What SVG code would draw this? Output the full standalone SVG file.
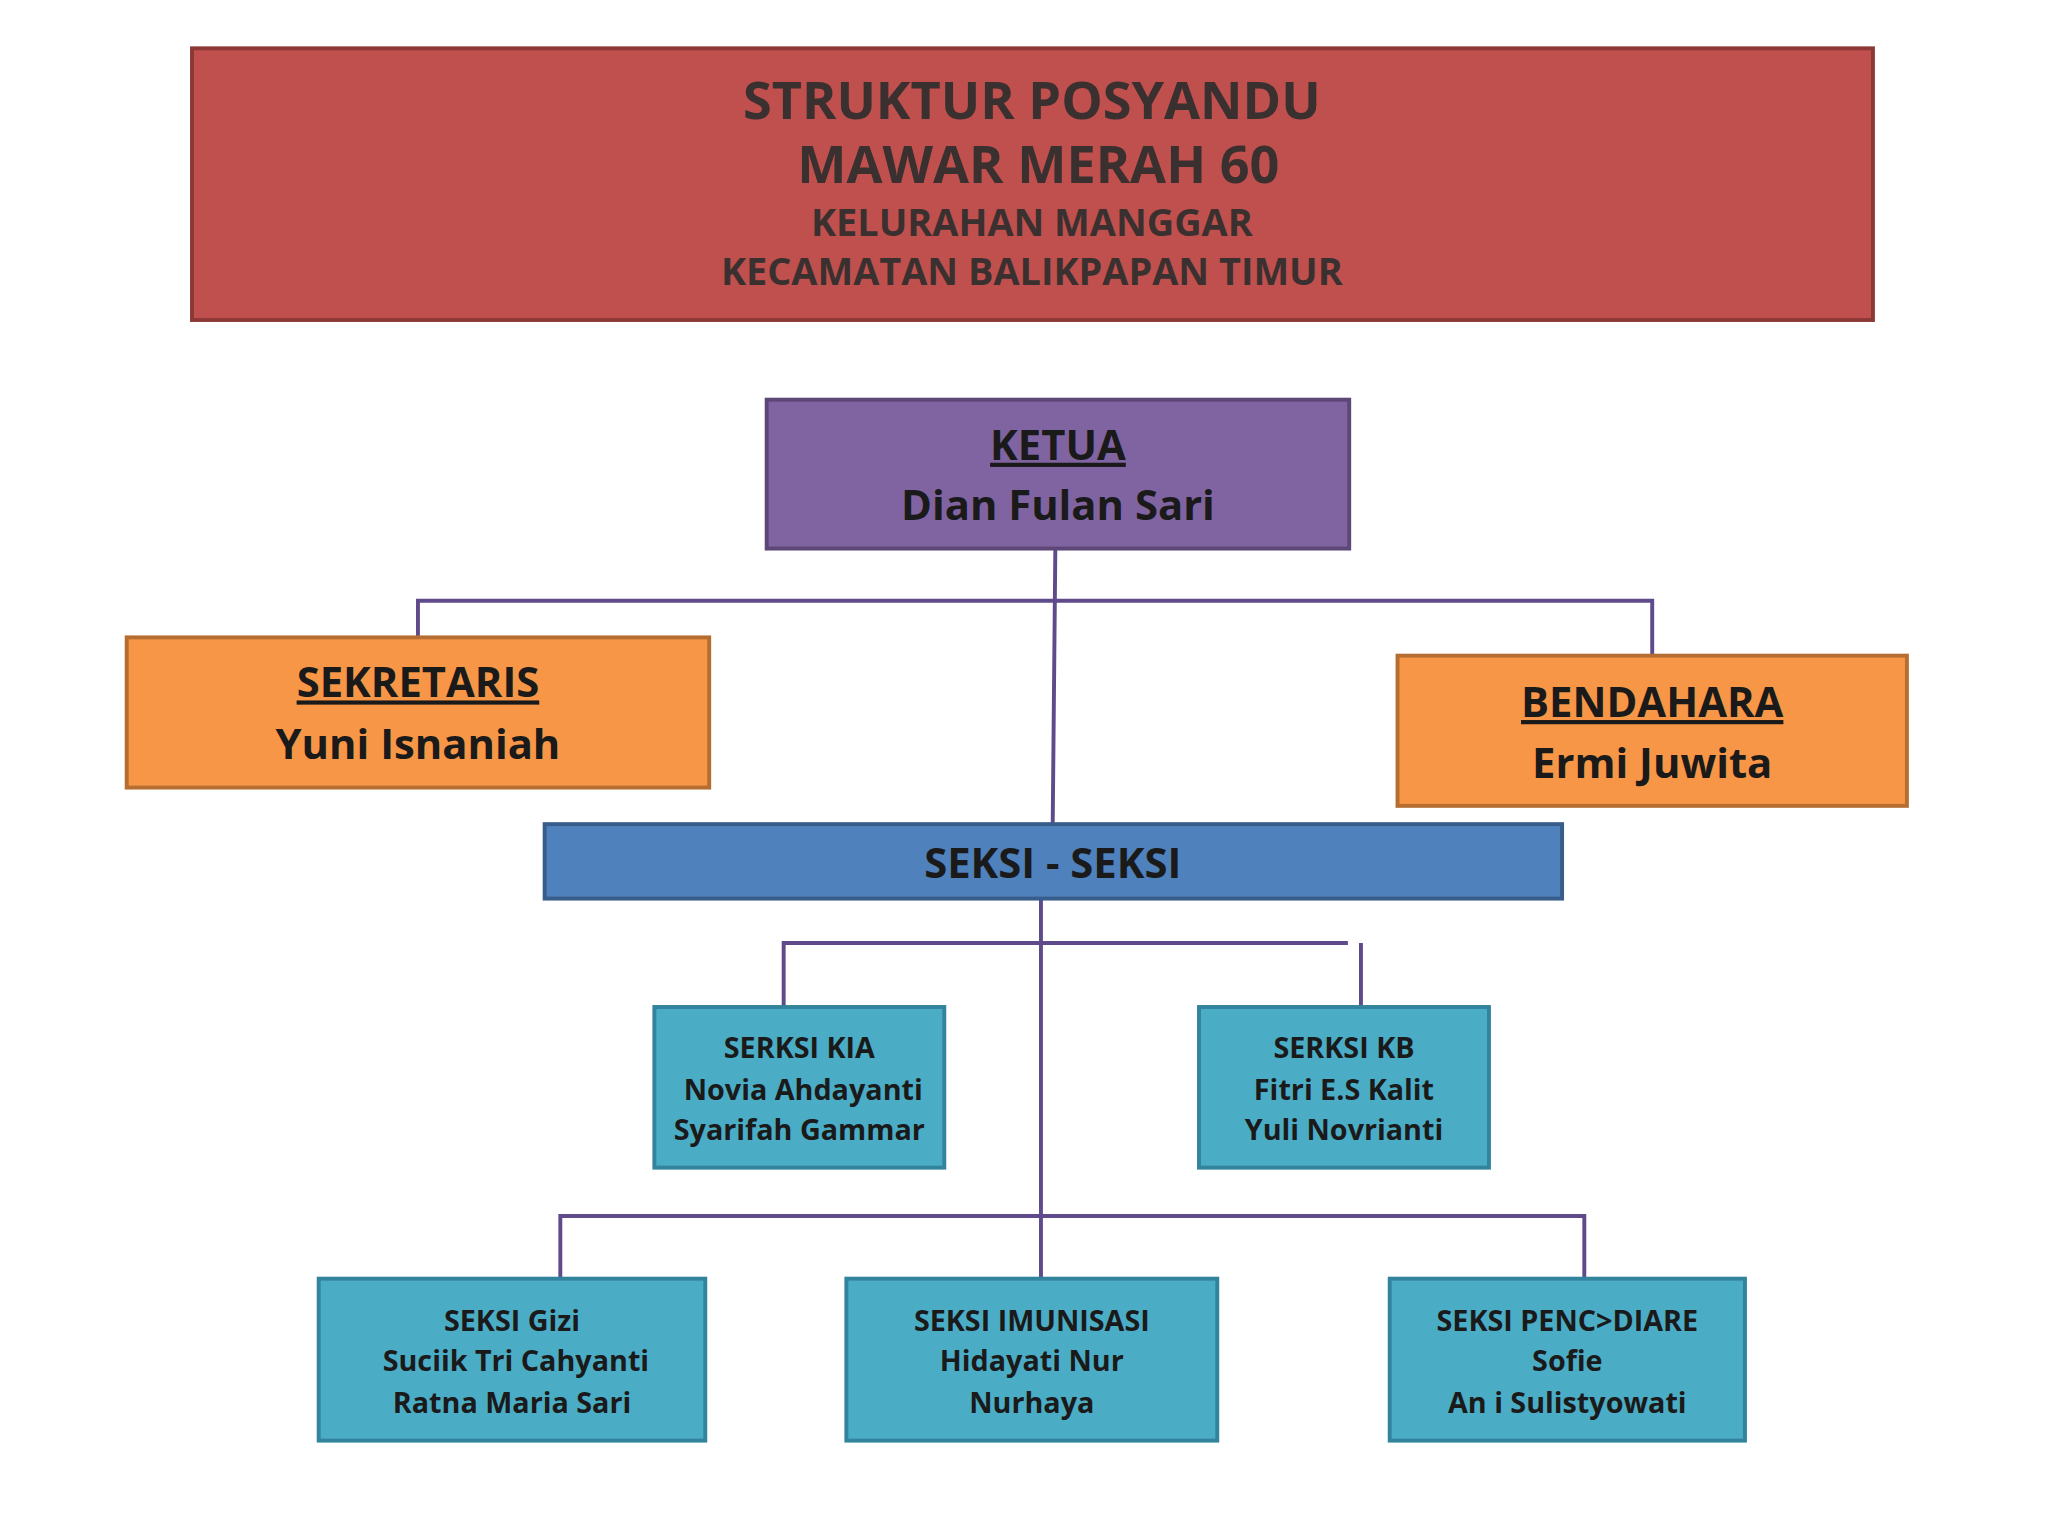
<svg xmlns="http://www.w3.org/2000/svg" width="2048" height="1536" viewBox="0 0 2048 1536">
<style>
text{font-family:"Open Sans","Liberation Sans",sans-serif;font-weight:bold;fill:#1a1a1a;text-anchor:middle}
.t{fill:#3a3030;font-size:40px}
.t2{fill:#3a3030;font-size:29px}
.big{font-size:32px}
.sm{font-size:22px}
.c{stroke:#5F4B8B;stroke-width:3;fill:none}
</style>
<rect width="2048" height="1536" fill="#fff"/>
<g transform="scale(1.3061)">
<g id="title">
<rect x="147" y="37" width="1287" height="208" fill="#C0504D" stroke="#8C3836" stroke-width="3"/>
<text class="t" x="790" y="91">STRUKTUR  POSYANDU</text>
<text class="t" x="795" y="140">MAWAR MERAH 60</text>
<text class="t2" x="790" y="181">KELURAHAN MANGGAR</text>
<text class="t2" x="790" y="218">KECAMATAN BALIKPAPAN TIMUR</text>
</g>
<g id="connectors">
<path class="c" d="M808 420 L806 631 M320 488 V460 H1265 V502 M797 688 V979 M600 771 V722 H1032 M1042 722 V771 M429 979 V931 H1213 V979"/>
</g>
<g id="ketua">
<rect x="587" y="306" width="446" height="114" fill="#8064A2" stroke="#5C4776" stroke-width="3"/>
<text class="big" x="810" y="352" text-decoration="underline">KETUA</text>
<text class="big" x="810" y="398">Dian Fulan Sari</text>
</g>
<g id="sekretaris">
<rect x="97" y="488" width="446" height="115" fill="#F79646" stroke="#B66D31" stroke-width="3"/>
<text class="big" x="320" y="534" text-decoration="underline">SEKRETARIS</text>
<text class="big" x="320" y="581">Yuni Isnaniah</text>
</g>
<g id="bendahara">
<rect x="1070" y="502" width="390" height="115" fill="#F79646" stroke="#B66D31" stroke-width="3"/>
<text class="big" x="1265" y="549" text-decoration="underline">BENDAHARA</text>
<text class="big" x="1265" y="596">Ermi Juwita</text>
</g>
<g id="seksi">
<rect x="417" y="631" width="779" height="57" fill="#4F81BD" stroke="#385D8A" stroke-width="3"/>
<text class="big" x="806" y="672">SEKSI - SEKSI</text>
</g>
<g id="kia">
<rect x="501" y="771" width="222" height="123" fill="#4BACC6" stroke="#31849B" stroke-width="3"/>
<text class="sm" x="612" y="810">SERKSI KIA</text>
<text class="sm" x="615" y="842">Novia Ahdayanti</text>
<text class="sm" x="612" y="873">Syarifah Gammar</text>
</g>
<g id="kb">
<rect x="918" y="771" width="222" height="123" fill="#4BACC6" stroke="#31849B" stroke-width="3"/>
<text class="sm" x="1029" y="810">SERKSI KB</text>
<text class="sm" x="1029" y="842">Fitri E.S Kalit</text>
<text class="sm" x="1029" y="873">Yuli Novrianti</text>
</g>
<g id="gizi">
<rect x="244" y="979" width="296" height="124" fill="#4BACC6" stroke="#31849B" stroke-width="3"/>
<text class="sm" x="392" y="1019">SEKSI Gizi</text>
<text class="sm" x="395" y="1050">Suciik Tri Cahyanti</text>
<text class="sm" x="392" y="1082">Ratna Maria Sari</text>
</g>
<g id="imunisasi">
<rect x="648" y="979" width="284" height="124" fill="#4BACC6" stroke="#31849B" stroke-width="3"/>
<text class="sm" x="790" y="1019">SEKSI IMUNISASI</text>
<text class="sm" x="790" y="1050">Hidayati Nur</text>
<text class="sm" x="790" y="1082">Nurhaya</text>
</g>
<g id="diare">
<rect x="1064" y="979" width="272" height="124" fill="#4BACC6" stroke="#31849B" stroke-width="3"/>
<text class="sm" x="1200" y="1019">SEKSI PENC&gt;DIARE</text>
<text class="sm" x="1200" y="1050">Sofie</text>
<text class="sm" x="1200" y="1082">An i Sulistyowati</text>
</g>
</g>
</svg>
